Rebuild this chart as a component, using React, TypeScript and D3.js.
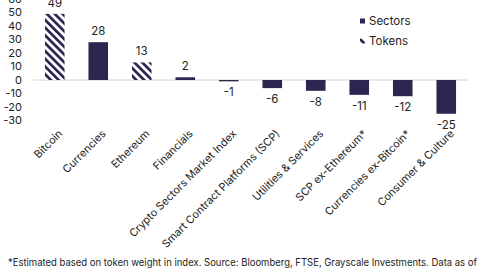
import React from "react";
import * as d3 from "d3";

const categories = [
  "Bitcoin",
  "Currencies",
  "Ethereum",
  "Financials",
  "Crypto Sectors Market Index",
  "Smart Contract Platforms (SCP)",
  "Utilities & Services",
  "SCP ex-Ethereum*",
  "Currencies ex-Bitcoin*",
  "Consumer & Culture",
];
const values = [49, 28, 13, 2, -1, -6, -8, -11, -12, -25];
const kinds = ["Tokens", "Sectors", "Tokens", "Sectors", "Sectors", "Sectors", "Sectors", "Sectors", "Sectors", "Sectors"];
const yTicks = [-30, -20, -10, 0, 10, 20, 30, 40, 50, 60];
const legendItems = ["Sectors", "Tokens"];
const footnote =
  "*Estimated based on token weight in index. Source: Bloomberg, FTSE, Grayscale Investments. Data as of";

const W = 480;
const H = 270;
const NAVY = "#2b2550";
const FONT = "Inter, 'Open Sans', sans-serif";

export default function App() {
  const x = d3.scaleBand<string>().domain(categories).range([33, 468]).paddingInner(0.55).paddingOuter(0.275);
  const y = d3.scaleLinear().domain([-30, 60]).range([120.5, -1]);
  const y0 = y(0);

  return (
    <svg
      width={W}
      height={H}
      style={{ position: "absolute", left: 0, top: 0, background: "#fff" }}
      fontFamily={FONT}
    >
      <defs>
        <pattern id="hatch" width="5.5" height="5.5" patternUnits="userSpaceOnUse" patternTransform="rotate(-45)">
          <rect width="5.5" height="5.5" fill="#fff" />
          <rect x="0" y="0" width="2.7" height="5.5" fill={NAVY} />
        </pattern>
      </defs>

      {/* y axis labels */}
      {yTicks.map((t) => (
        <text key={t} x={22} y={y(t)} dy="0.35em" textAnchor="end" fontSize={11} fill="#222">
          {t}
        </text>
      ))}

      {/* zero line */}
      <line x1={33} x2={468} y1={y0} y2={y0} stroke="#d4d4d4" strokeWidth={1} />

      {/* bars */}
      {categories.map((c, i) => {
        const v = values[i];
        const top = Math.min(y(v), y0);
        const h = Math.abs(y(v) - y0);
        return (
          <rect
            key={c}
            x={x(c)}
            y={top}
            width={x.bandwidth()}
            height={h}
            fill={kinds[i] === "Tokens" ? "url(#hatch)" : NAVY}
          />
        );
      })}

      {/* value labels */}
      {categories.map((c, i) => {
        const v = values[i];
        const cx = (x(c) as number) + x.bandwidth() / 2;
        const ly = v >= 0 ? y(v) - 7 : y(v) + 15;
        return (
          <text key={c} x={cx} y={ly} textAnchor="middle" fontSize={11.5} fill="#222">
            {v}
          </text>
        );
      })}

      {/* category labels */}
      {categories.map((c) => {
        const cx = (x(c) as number) + x.bandwidth() / 2 + 3;
        return (
          <text
            key={c}
            transform={`translate(${cx},${129}) rotate(-45)`}
            textAnchor="end"
            dy="0.7em"
            fontSize={10.8}
            fill="#222"
          >
            {c}
          </text>
        );
      })}

      {/* legend */}
      {legendItems.map((name, i) => (
        <g key={name} transform={`translate(360,${21 + i * 20})`}>
          <rect x={0} y={-2.5} width={5} height={5} fill={name === "Tokens" ? "url(#hatch)" : NAVY} />
          <text x={9} y={0} dy="0.35em" fontSize={11.5} fill="#222">
            {name}
          </text>
        </g>
      ))}

      {/* footnote */}
      <text x={8} y={266} fontSize={10.5} fill="#222" textLength={469} lengthAdjust="spacingAndGlyphs">
        {footnote}
      </text>
    </svg>
  );
}
